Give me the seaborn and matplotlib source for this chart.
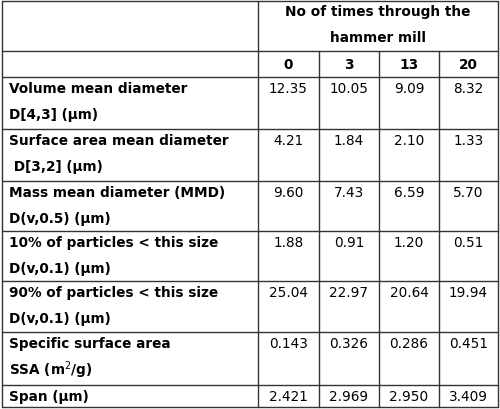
import matplotlib
matplotlib.use("Agg")
import matplotlib.pyplot as plt
import seaborn as sns

sns.set_theme(style="white")
plt.rcParams['font.family'] = ['DejaVu Sans']

header = ["No of times through the", "hammer mill"]
passes = ["0", "3", "13", "20"]
row_labels = [
    ["Volume mean diameter", "D[4,3] (µm)"],
    ["Surface area mean diameter", " D[3,2] (µm)"],
    ["Mass mean diameter (MMD)", "D(v,0.5) (µm)"],
    ["10% of particles < this size", "D(v,0.1) (µm)"],
    ["90% of particles < this size", "D(v,0.1) (µm)"],
    ["Specific surface area", "SSA (m$^2$/g)"],
    ["Span (µm)"],
]
values = [
    ["12.35", "10.05", "9.09", "8.32"],
    ["4.21", "1.84", "2.10", "1.33"],
    ["9.60", "7.43", "6.59", "5.70"],
    ["1.88", "0.91", "1.20", "0.51"],
    ["25.04", "22.97", "20.64", "19.94"],
    ["0.143", "0.326", "0.286", "0.451"],
    ["2.421", "2.969", "2.950", "3.409"],
]

fig = plt.figure(figsize=(5, 4.1), dpi=100)
ax = fig.add_axes([0, 0, 1, 1])
ax.set_xlim(0, 500)
ax.set_ylim(410, 0)
ax.axis('off')

xs = [2, 258, 319, 379, 439, 498]
ys = [2, 52, 78, 130, 182, 232, 282, 333, 386, 408]
lc = '#333333'
lw = 1.0
for y in ys:
    ax.plot([xs[0], xs[-1]], [y, y], color=lc, lw=lw)
ax.plot([xs[0], xs[0]], [ys[0], ys[-1]], color=lc, lw=lw)
ax.plot([xs[-1], xs[-1]], [ys[0], ys[-1]], color=lc, lw=lw)
ax.plot([xs[1], xs[1]], [ys[0], ys[-1]], color=lc, lw=lw)
for x in xs[2:-1]:
    ax.plot([x, x], [ys[1], ys[-1]], color=lc, lw=lw)

fs = 9.8
cx = (xs[1] + xs[-1]) / 2
ax.text(cx, 12, header[0], ha='center', va='center', fontsize=fs, fontweight='bold', color='black')
ax.text(cx, 38, header[1], ha='center', va='center', fontsize=fs, fontweight='bold', color='black')
for i, p in enumerate(passes):
    ax.text((xs[i + 1] + xs[i + 2]) / 2, 65, p, ha='center', va='center', fontsize=fs, fontweight='bold', color='black')

for r, (lab, vals) in enumerate(zip(row_labels, values)):
    top = ys[r + 2]
    for k, line in enumerate(lab):
        ax.text(9, top + 11 + 26 * k, line, ha='left', va='center', fontsize=fs, fontweight='bold', color='black')
    for i, v in enumerate(vals):
        ax.text((xs[i + 1] + xs[i + 2]) / 2, top + 11, v, ha='center', va='center', fontsize=fs, color='black')

fig.savefig("out.png", dpi=100, facecolor='white')
